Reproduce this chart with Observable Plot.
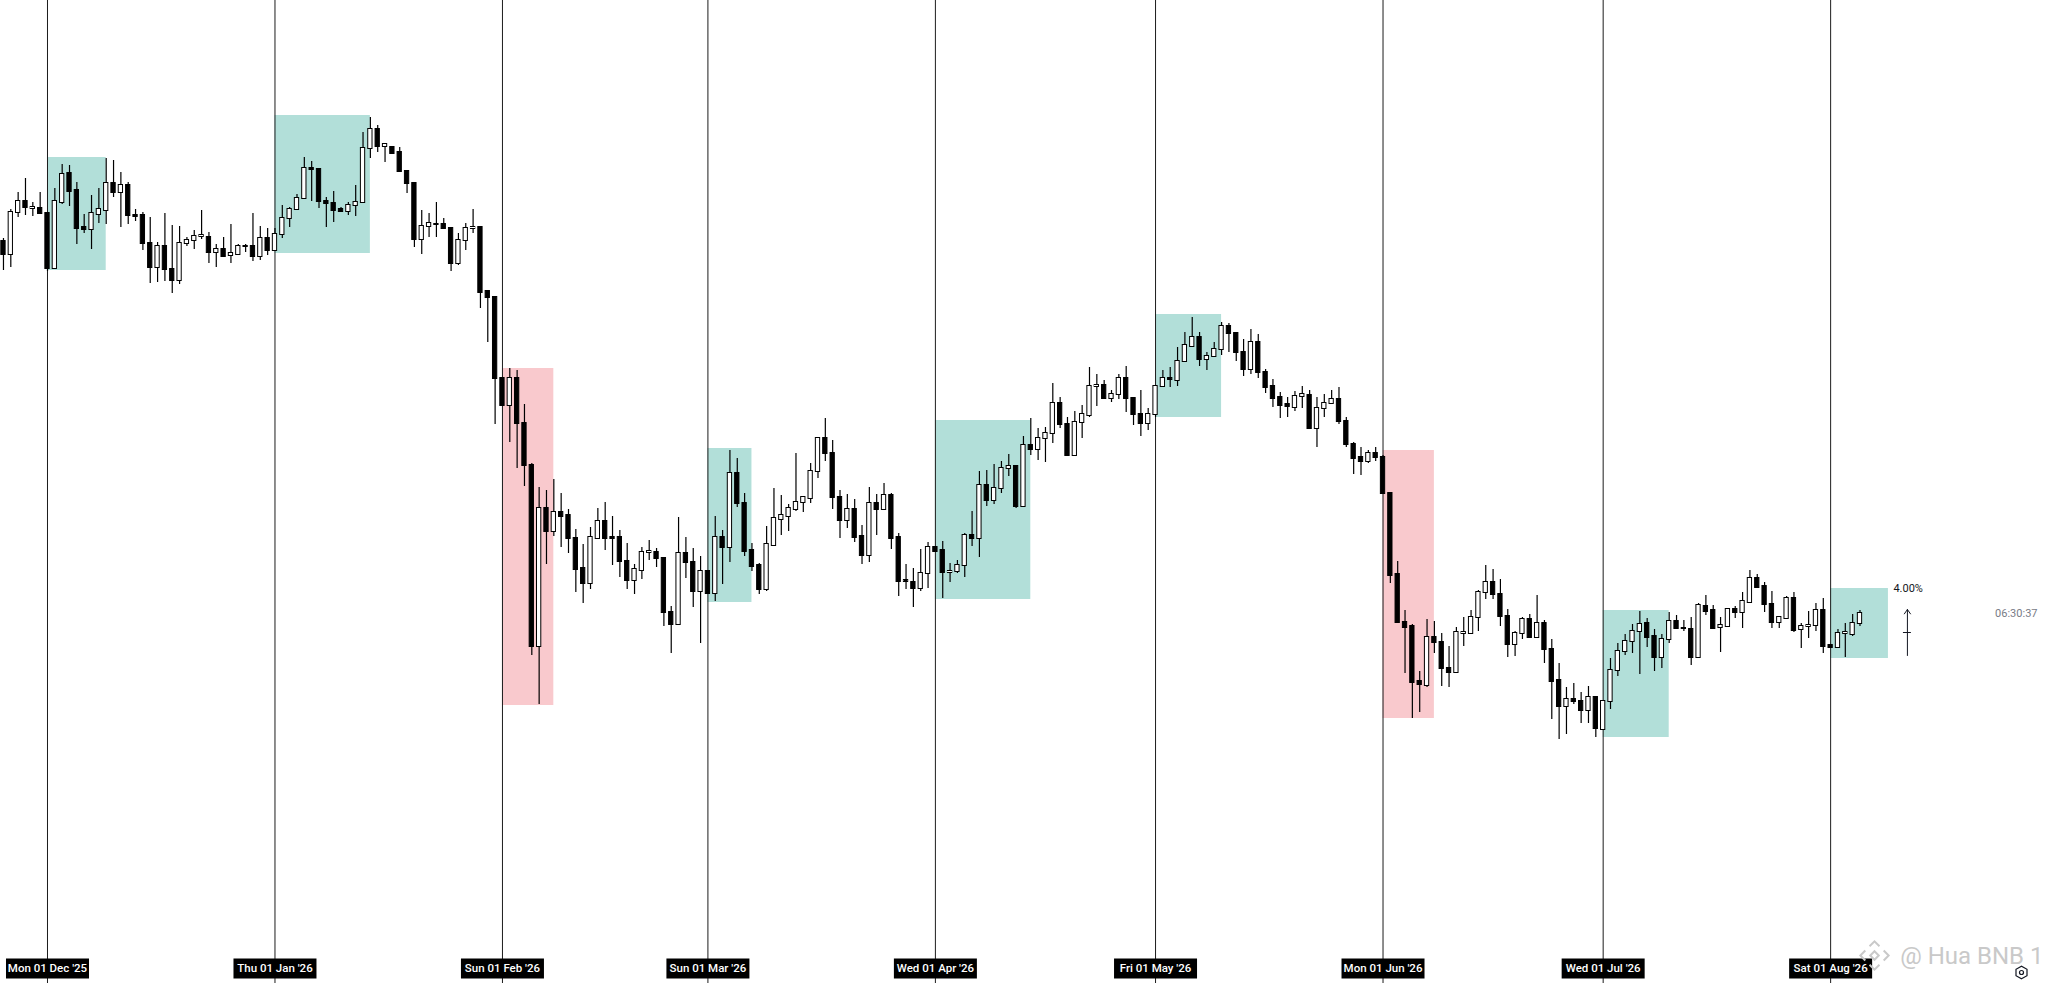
<!DOCTYPE html>
<html>
<head>
<meta charset="utf-8">
<script src="https://cdn.jsdelivr.net/npm/d3@7"></script>
<script src="https://cdn.jsdelivr.net/npm/@observablehq/plot@0.6"></script>
<style>
  html, body { margin: 0; padding: 0; background: #fff; overflow: hidden; }
  #chart svg { display: block; }
</style>
</head>
<body>
<div id="chart"></div>
<script>
// daily candles, first one is Tue 25 Nov 2025
const firstDay = "2025-11-25";

const opens = [
  759,746,788,799,792,792,
  787,732,798,827,810,773,771,786,790,817,808,815,785,785,757,733,754,731,720,757,760,764,763,748,751,745,746,754,754,744,762,
  750,766,782,791,802,832,831,799,797,791,789,795,798,852,871,854,853,848,829,817,761,774,776,776,772,737,760,772,773,709,703,
  622,595,622,577,535,354,492,469,488,485,462,432,417,462,479,463,463,439,420,430,448,448,442,388,376,447,438,409,
  429,407,463,453,527,497,450,435,411,455,481,484,491,498,502,529,562,547,503,480,491,464,445,497,491,505,463,420,418,412,427,
  453,450,428,429,435,465,462,515,500,512,532,534,494,555,551,562,567,597,576,545,578,585,614,615,602,606,622,602,586,577,
  586,614,622,620,639,654,663,641,644,651,674,667,648,631,658,628,614,603,596,593,604,605,572,592,597,601,579,556,543,539,547,
  543,507,426,378,374,319,315,363,358,332,328,367,367,383,408,418,406,384,356,367,381,363,377,351,320,294,301,299,290,303,
  271,299,330,349,359,369,377,364,343,361,379,372,371,343,394,390,373,374,391,388,398,422,414,396,378,382,402,371,374,375,390,
  355,353,367,366,377
];
const highs = [
  762,791,808,822,798,808,
  788,812,836,835,818,786,805,812,842,840,828,818,791,788,783,758,787,775,774,763,770,790,768,756,763,776,756,756,787,774,772,
  772,795,793,806,843,839,831,803,809,793,798,815,868,883,875,857,854,853,829,817,790,787,798,782,773,767,777,791,773,710,704,
  623,632,630,596,537,513,510,521,507,491,471,456,473,492,498,484,470,457,436,453,460,452,443,394,483,463,452,444,
  430,484,470,550,542,507,457,437,474,512,505,496,547,504,537,563,582,560,510,506,501,475,513,506,517,507,467,436,432,451,458,
  453,459,437,440,467,489,529,530,536,539,546,535,564,582,572,573,617,603,583,589,595,633,626,620,610,626,634,603,610,592,
  615,630,633,653,668,683,668,648,658,678,677,668,661,671,666,631,621,608,603,609,614,610,603,606,610,613,583,558,553,550,553,
  545,508,439,390,376,329,381,379,367,354,373,383,390,410,435,431,421,391,369,383,386,405,380,361,337,313,317,308,314,304,
  300,342,357,366,376,389,382,371,366,388,385,380,383,397,405,395,383,392,394,408,430,426,418,409,384,404,408,377,389,397,402,
  356,371,377,386,390
];
const lows = [
  730,733,783,785,784,786,
  729,731,796,794,756,767,751,777,776,803,773,776,779,750,717,718,719,707,716,754,751,761,737,733,743,737,745,748,739,740,745,
  749,762,773,790,801,799,792,773,778,788,785,784,797,842,848,838,847,828,807,753,746,763,763,771,729,735,750,767,692,658,576,
  594,558,532,514,345,296,436,464,453,447,408,397,411,462,450,435,423,411,406,421,440,433,374,347,375,422,393,357,
  406,399,416,438,493,444,429,406,409,454,465,469,489,488,497,522,539,491,462,472,458,436,438,465,490,451,404,411,393,409,412,
  449,402,418,427,423,454,443,494,496,507,524,492,493,545,540,538,557,572,544,544,562,583,594,601,598,601,588,575,564,570,
  583,613,613,614,638,653,634,630,643,645,648,639,624,626,622,607,593,582,583,589,592,571,553,583,596,576,553,526,525,537,539,
  506,417,377,327,282,288,313,347,314,313,327,354,366,369,401,401,374,343,344,361,362,362,337,281,261,266,296,277,277,263,
  270,291,324,345,347,326,353,329,332,357,371,369,335,343,385,372,348,373,382,372,398,413,388,372,372,382,368,352,362,369,347,
  352,352,343,364,374
];
const closes = [
  746,788,799,793,793,787,
  732,799,826,809,772,771,787,791,817,808,815,785,784,757,733,754,731,720,757,760,764,765,748,751,744,747,754,754,744,762,750,
  766,782,791,802,832,831,799,797,790,789,795,798,852,871,854,856,847,829,817,761,774,777,776,772,737,760,772,773,708,703,622,
  595,622,577,535,354,492,469,488,484,462,431,417,463,479,462,462,439,420,431,448,449,442,388,376,447,438,409,429,
  407,463,453,527,497,449,434,411,456,482,485,492,498,503,529,562,547,503,480,491,463,445,497,491,505,462,419,419,412,427,453,
  449,428,429,435,465,462,515,500,512,532,534,494,555,551,562,567,597,576,545,578,586,614,615,602,606,622,602,586,577,586,
  614,622,621,639,655,663,641,644,651,674,667,648,631,658,628,613,602,595,594,604,606,572,592,597,601,579,556,542,539,547,543,
  507,425,378,373,318,316,363,358,332,328,368,368,383,408,418,406,384,356,367,381,363,377,351,319,294,301,299,290,303,272,
  299,330,349,359,369,376,363,343,361,379,372,372,343,395,389,372,375,391,388,399,422,413,396,378,383,402,370,374,375,390,354,
  353,367,368,377,387
];

// opening-range boxes of each month
const boxStart  = ["2025-12-01","2026-01-01","2026-02-01","2026-03-01","2026-04-01","2026-05-01","2026-06-01","2026-07-01","2026-08-01"];
const boxEnd    = ["2025-12-09","2026-01-14","2026-02-08","2026-03-07","2026-04-14","2026-05-10","2026-06-08","2026-07-10","2026-08-08T21:00"];
const boxTop    = [843, 885, 632, 552, 580, 686, 550, 390, 412];
const boxBottom = [730, 747, 295, 398, 401, 583, 282, 263, 342];
const boxKind   = ["up","up","down","up","up","up","down","up","up"];

const monthStarts = boxStart;
const boxPct = "4.00%";
const arrowPrices = [345, 368, 391]; // foot, tick, tip
const countdown = "06:30:37";
const watermark = "@ Hua BNB 1";

const font = "Roboto, 'Liberation Sans', sans-serif";

const day0 = d3.utcParse("%Y-%m-%d")(firstDay);
const candles = opens.map((o, i) => ({
  date: d3.utcDay.offset(day0, i),
  open: o, high: highs[i], low: lows[i], close: closes[i]
}));

const parseT = s => new Date(s.length > 10 ? s + "Z" : s + "T00:00Z");
const boxes = boxStart.map((s, i) => ({
  start: parseT(s), end: parseT(boxEnd[i]), top: boxTop[i], bottom: boxBottom[i], kind: boxKind[i]
}));
const months = monthStarts.map(parseT);
const lastBox = boxes[boxes.length - 1];
const lastClose = closes[closes.length - 1];

const dec1 = Date.UTC(2025, 11, 1), DAY = 864e5;
const fmt = d3.utcFormat("%a %d %b '%y");

// custom symbols: the label plate under each month label, the exchange logo
const plate = {draw(ctx) { ctx.rect(-41.5, -10, 83, 20); }};
const logo = {draw(ctx) {
  const s = Math.SQRT1_2;
  const p = (x, y) => [(x - y) * s, (x + y) * s]; // rotate 45deg
  const poly = pts => { pts.forEach(([x, y], i) => { const [a, b] = p(x, y); i ? ctx.lineTo(a, b) : ctx.moveTo(a, b); }); ctx.closePath(); };
  poly([[-3, -3], [3, -3], [3, 3], [-3, 3]]);
  ctx.moveTo(...p(-10, -3)); ctx.lineTo(...p(-10, -10)); ctx.lineTo(...p(-3, -10));
  ctx.moveTo(...p(3, 10)); ctx.lineTo(...p(10, 10)); ctx.lineTo(...p(10, 3));
  ctx.moveTo(...p(3, -10)); ctx.lineTo(...p(10, -10)); ctx.lineTo(...p(10, -3));
  ctx.moveTo(...p(-10, 3)); ctx.lineTo(...p(-10, 10)); ctx.lineTo(...p(-3, 10));
}};

const chart = Plot.plot({
  width: 2048,
  height: 983,
  marginTop: 0, marginRight: 0, marginBottom: 0, marginLeft: 0,
  style: {fontFamily: font, background: "#fff", overflow: "hidden"},
  x: {type: "utc", domain: [new Date(dec1 - 6.405 * DAY), new Date(dec1 + 272.69 * DAY)], axis: null},
  y: {domain: [17, 1000], axis: null},
  marks: [
    Plot.rect(boxes, {
      x1: "start", x2: "end", y1: "bottom", y2: "top",
      fill: d => d.kind === "up" ? "#b2dfd9" : "#f9c9cd"
    }),
    Plot.ruleX(months, {stroke: "#1c1c1c", strokeWidth: 1}),
    Plot.ruleX(candles, {x: "date", y1: "low", y2: "high", stroke: "#000", strokeWidth: 1.2}),
    Plot.rect(candles, {
      x1: d => d3.utcHour.offset(d.date, -7),
      x2: d => d3.utcHour.offset(d.date, 7),
      y1: "open", y2: "close",
      insetTop: -0.5, insetBottom: -0.5,
      fill: d => d.close >= d.open ? "#fff" : "#000",
      stroke: "#000", strokeWidth: 1
    }),
    // projection on the last box
    Plot.text([lastBox], {x: "end", y: "top", text: () => boxPct, textAnchor: "start", dx: 5,
      fontSize: 11, fill: "#131722"}),
    Plot.arrow([lastBox], {x1: "end", x2: "end", y1: () => arrowPrices[0], y2: () => arrowPrices[2],
      dx: 19, stroke: "#131722", strokeWidth: 1, headLength: 8, headAngle: 70}),
    Plot.ruleY([lastBox], {y: () => arrowPrices[1],
      x1: d => d3.utcHour.offset(d.end, -13), x2: d => d3.utcHour.offset(d.end, 13),
      dx: 19, stroke: "#131722", strokeWidth: 1}),
    Plot.text([{t: countdown, y: lastClose}], {frameAnchor: "right", y: "y", text: "t",
      textAnchor: "end", dx: -11, fontSize: 11, fill: "#787b86"}),
    // month labels on the time axis
    Plot.dot(months, {x: d => d, frameAnchor: "bottom", dy: -15, symbol: plate, r: 5,
      fill: "#000", stroke: "none"}),
    Plot.text(months, {x: d => d, text: d => fmt(d), frameAnchor: "bottom", dy: -15,
      lineAnchor: "middle", fill: "#fff", fontSize: 11.5, fontWeight: 500}),
    Plot.text([watermark], {frameAnchor: "bottom-right", textAnchor: "end", lineAnchor: "middle",
      dx: -5, dy: -27, fontSize: 24, fill: "#c9c9c9"}),
    Plot.dot([0], {frameAnchor: "bottom-right", dx: -174, dy: -28, symbol: logo, r: 5,
      fill: "none", stroke: "#c9c9c9", strokeWidth: 2}),
    Plot.dot([0], {frameAnchor: "bottom-right", dx: -27, dy: -11, symbol: "hexagon", r: 5.5,
      stroke: "#131722", strokeWidth: 1.2, fill: "none"}),
    Plot.dot([0], {frameAnchor: "bottom-right", dx: -27, dy: -11, r: 2,
      stroke: "#131722", strokeWidth: 1.2, fill: "none"})
  ]
});

document.getElementById("chart").append(chart);
</script>
</body>
</html>
